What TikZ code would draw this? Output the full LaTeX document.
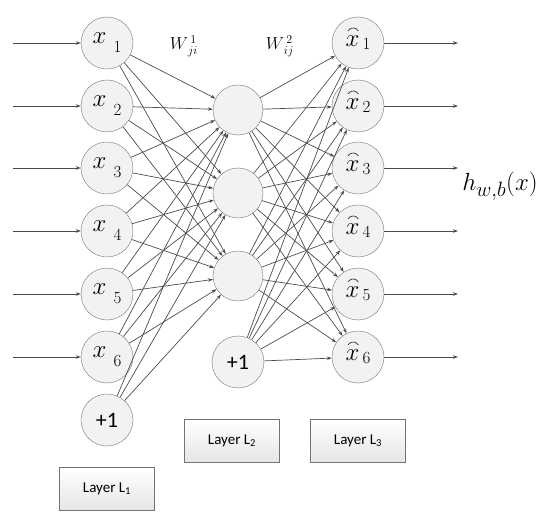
\documentclass[tikz,border=0pt]{standalone}
\usepackage{fontspec}
\usepackage{amsmath}
\newfontfamily\calib{Carlito}
\usetikzlibrary{arrows.meta}

\newcommand{\invar}[1]{{\fontsize{32}{32}\selectfont$x$}\kern7pt\raisebox{-9pt}{\fontsize{17}{17}\selectfont #1}}
\newcommand{\outvar}[1]{{\fontsize{32}{32}\selectfont$x$}\kern3pt\raisebox{-3pt}{\fontsize{17}{17}\selectfont #1}}

\begin{document}
\begin{tikzpicture}[x=1pt,y=-1pt,
  neuron/.style={circle,draw=black!55,fill=black!5,minimum size=52pt,inner sep=0pt},
  conn/.style={draw=black!70,line width=0.7pt,-{Stealth[length=5pt,width=3.5pt]}},
  hatline/.style={draw=black!80,line width=0.7pt},
  layerbox/.style={draw=black!55,top color=white,bottom color=black!10,minimum width=95pt,minimum height=43pt,
    font=\calib\fontsize{15}{17}\selectfont}]
\useasboundingbox (0,0) rectangle (550,519);

% input layer
\foreach \i/\y in {1/43,2/106,3/168,4/231,5/294,6/357} {
  \node[neuron] (in\i) at (107,\y) {\invar{\i}};
  \coordinate (src\i) at (13,\y);
  \draw[conn] (src\i) -- (in\i);
}
\node[neuron] (inb) at (107,420) {\calib\fontsize{22}{22}\selectfont +1};

% hidden layer
\foreach \j/\y in {1/110,2/193,3/276}
  \node[neuron,minimum size=50pt] (h\j) at (238,\y) {};
\node[neuron] (hb) at (238,362) {\calib\fontsize{22}{22}\selectfont +1};

% output layer
\foreach \k/\y in {1/43,2/106,3/168,4/231,5/294,6/357} {
  \node[neuron] (out\k) at (358,\y) {\outvar{\k}};
  \draw[hatline] ([xshift=-10pt,yshift=12pt]out\k.center) arc[start angle=150,end angle=30,radius=6pt];
  \coordinate (dst\k) at (458,\y);
  \draw[conn] (out\k) -- (dst\k);
}

% weights
\foreach \i in {1,...,6,b}
  \foreach \j in {1,2,3}
    \draw[conn] (in\i) -- (h\j);
\foreach \j in {1,2,3,b}
  \foreach \k in {1,...,6}
    \draw[conn] (h\j) -- (out\k);

% labels
\node (w1) at (184,46) {\fontsize{18}{18}\selectfont$W^{\,1}_{\,ji}$};
\node (w2) at (280,46) {\fontsize{18}{18}\selectfont$W^{\,2}_{\,ij}$};
\node (hwb) at (500,186) {\fontsize{32}{32}\selectfont$h_{w,b}(x)$};

\node[layerbox] (l1) at (107,489) {Layer L\textsubscript{1}};
\node[layerbox] (l2) at (232,441) {Layer L\textsubscript{2}};
\node[layerbox] (l3) at (358,441) {Layer L\textsubscript{3}};
\end{tikzpicture}
\end{document}
